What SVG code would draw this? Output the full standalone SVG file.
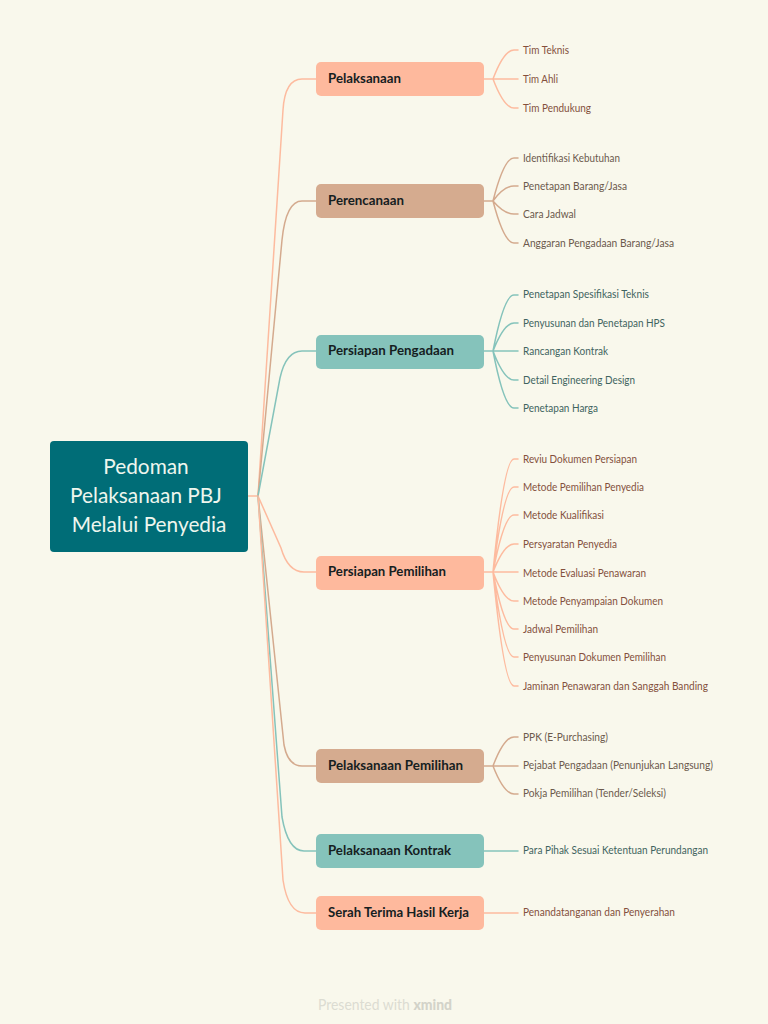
<svg xmlns="http://www.w3.org/2000/svg" width="768" height="1024" viewBox="0 0 768 1024">
<style>
text{font-family:"Lato","Liberation Sans",sans-serif}
.c{fill:none;stroke-width:1.5;stroke-linecap:round}
.o{stroke:#fdbb9f}.t{stroke:#d4aa8e}.g{stroke:#85c3bb}
.b{font-size:14px;font-weight:700;fill:#15201f}
.l{font-size:10.8px}
.lo{fill:#84503c}.lt{fill:#6c5a4c}.lg{fill:#3f6460}
.ro{fill:#feb99d}.rt{fill:#d5ab8f}.rg{fill:#85c3bb}
</style>
<rect width="768" height="1024" fill="#f9f8ec"/>
<g id="connectors">
<path class="c o" d="M248 496H258"/>
<path class="c o" d="M258 496L283 110Q285 79 302 79H316"/>
<path class="c t" d="M258 496L282 240Q286 201 302 201H316"/>
<path class="c g" d="M258 496L280 378Q286 351 302 351H316"/>
<path class="c o" d="M258 496L281 548Q288 572 304 572H316"/>
<path class="c t" d="M258 496L284 745Q288 766 302 766H316"/>
<path class="c g" d="M258 496L282 817Q288 851 304 851H316"/>
<path class="c o" d="M258 496L283 880Q288 913 305 913H316"/>
<path class="c o" d="M484 79H493Q504 50 514 50H518M493 79H518M493 79Q504 108 514 108H518"/>
<path class="c t" d="M484 201H493Q504 158 514 158H518M493 201Q504 186 514 186H518M493 201Q504 214 514 214H518M493 201Q504 243 514 243H518"/>
<path class="c g" d="M484 351H493Q504 295 514 295H518M493 351Q504 323 514 323H518M493 351H518M493 351Q504 380 514 380H518M493 351Q504 408 514 408H518"/>
<path class="c o" d="M484 572H493Q504 459 514 459H518M493 572Q504 487 514 487H518M493 572Q504 515 514 515H518M493 572Q504 544 514 544H518M493 572H518M493 572Q504 601 514 601H518M493 572Q504 629 514 629H518M493 572Q504 657 514 657H518M493 572Q504 686 514 686H518"/>
<path class="c t" d="M484 766H493Q504 737 514 737H518M493 766H518M493 766Q504 794 514 794H518"/>
<path class="c g" d="M484 851H518"/>
<path class="c o" d="M484 913H518"/>
</g>
<g id="root"><rect x="50" y="441" width="198" height="111" rx="4" fill="#006d77"/>
<g font-size="20.8" fill="#eef6ee" text-anchor="middle"><text x="146" y="474">Pedoman</text><text x="146" y="503">Pelaksanaan PBJ</text><text x="149" y="532">Melalui Penyedia</text></g></g>
<g id="n1"><rect class="ro" x="316" y="62" width="168" height="34" rx="5"/><text class="b" x="328" y="83" textLength="73" lengthAdjust="spacingAndGlyphs">Pelaksanaan</text>
<g class="l lo"><text x="523" y="54" textLength="46" lengthAdjust="spacingAndGlyphs">Tim Teknis</text><text x="523" y="83" textLength="35" lengthAdjust="spacingAndGlyphs">Tim Ahli</text><text x="523" y="112" textLength="68" lengthAdjust="spacingAndGlyphs">Tim Pendukung</text></g></g>
<g id="n2"><rect class="rt" x="316" y="184" width="168" height="34" rx="5"/><text class="b" x="328" y="205" textLength="76" lengthAdjust="spacingAndGlyphs">Perencanaan</text>
<g class="l lt"><text x="523" y="162" textLength="97" lengthAdjust="spacingAndGlyphs">Identifikasi Kebutuhan</text><text x="523" y="190" textLength="104" lengthAdjust="spacingAndGlyphs">Penetapan Barang/Jasa</text><text x="523" y="218" textLength="53" lengthAdjust="spacingAndGlyphs">Cara Jadwal</text><text x="523" y="247" textLength="151" lengthAdjust="spacingAndGlyphs">Anggaran Pengadaan Barang/Jasa</text></g></g>
<g id="n3"><rect class="rg" x="316" y="335" width="168" height="34" rx="5"/><text class="b" x="328" y="355" textLength="126" lengthAdjust="spacingAndGlyphs">Persiapan Pengadaan</text>
<g class="l lg"><text x="523" y="298" textLength="126" lengthAdjust="spacingAndGlyphs">Penetapan Spesifikasi Teknis</text><text x="523" y="327" textLength="142" lengthAdjust="spacingAndGlyphs">Penyusunan dan Penetapan HPS</text><text x="523" y="355" textLength="85" lengthAdjust="spacingAndGlyphs">Rancangan Kontrak</text><text x="523" y="384" textLength="112" lengthAdjust="spacingAndGlyphs">Detail Engineering Design</text><text x="523" y="412" textLength="75" lengthAdjust="spacingAndGlyphs">Penetapan Harga</text></g></g>
<g id="n4"><rect class="ro" x="316" y="556" width="168" height="34" rx="5"/><text class="b" x="328" y="576" textLength="118" lengthAdjust="spacingAndGlyphs">Persiapan Pemilihan</text>
<g class="l lo"><text x="523" y="463" textLength="114" lengthAdjust="spacingAndGlyphs">Reviu Dokumen Persiapan</text><text x="523" y="491" textLength="121" lengthAdjust="spacingAndGlyphs">Metode Pemilihan Penyedia</text><text x="523" y="519" textLength="81" lengthAdjust="spacingAndGlyphs">Metode Kualifikasi</text><text x="523" y="548" textLength="94" lengthAdjust="spacingAndGlyphs">Persyaratan Penyedia</text><text x="523" y="577" textLength="123" lengthAdjust="spacingAndGlyphs">Metode Evaluasi Penawaran</text><text x="523" y="605" textLength="140" lengthAdjust="spacingAndGlyphs">Metode Penyampaian Dokumen</text><text x="523" y="633" textLength="75" lengthAdjust="spacingAndGlyphs">Jadwal Pemilihan</text><text x="523" y="661" textLength="143" lengthAdjust="spacingAndGlyphs">Penyusunan Dokumen Pemilihan</text><text x="523" y="690" textLength="185" lengthAdjust="spacingAndGlyphs">Jaminan Penawaran dan Sanggah Banding</text></g></g>
<g id="n5"><rect class="rt" x="316" y="749" width="168" height="34" rx="5"/><text class="b" x="328" y="770" textLength="135" lengthAdjust="spacingAndGlyphs">Pelaksanaan Pemilihan</text>
<g class="l lt"><text x="523" y="741" textLength="85" lengthAdjust="spacingAndGlyphs">PPK (E-Purchasing)</text><text x="523" y="769" textLength="190" lengthAdjust="spacingAndGlyphs">Pejabat Pengadaan (Penunjukan Langsung)</text><text x="523" y="797" textLength="143" lengthAdjust="spacingAndGlyphs">Pokja Pemilihan (Tender/Seleksi)</text></g></g>
<g id="n6"><rect class="rg" x="316" y="834" width="168" height="34" rx="5"/><text class="b" x="328" y="855" textLength="123" lengthAdjust="spacingAndGlyphs">Pelaksanaan Kontrak</text>
<g class="l lg"><text x="523" y="854" textLength="185" lengthAdjust="spacingAndGlyphs">Para Pihak Sesuai Ketentuan Perundangan</text></g></g>
<g id="n7"><rect class="ro" x="316" y="896" width="168" height="34" rx="5"/><text class="b" x="328" y="917" textLength="141" lengthAdjust="spacingAndGlyphs">Serah Terima Hasil Kerja</text>
<g class="l lo"><text x="523" y="916" textLength="152" lengthAdjust="spacingAndGlyphs">Penandatanganan dan Penyerahan</text></g></g>
<text x="318" y="1010" font-size="14.5" fill="#dcdcd2" textLength="134" lengthAdjust="spacingAndGlyphs">Presented with <tspan font-weight="900" fill="#d3d3c9">xmind</tspan></text>
</svg>
